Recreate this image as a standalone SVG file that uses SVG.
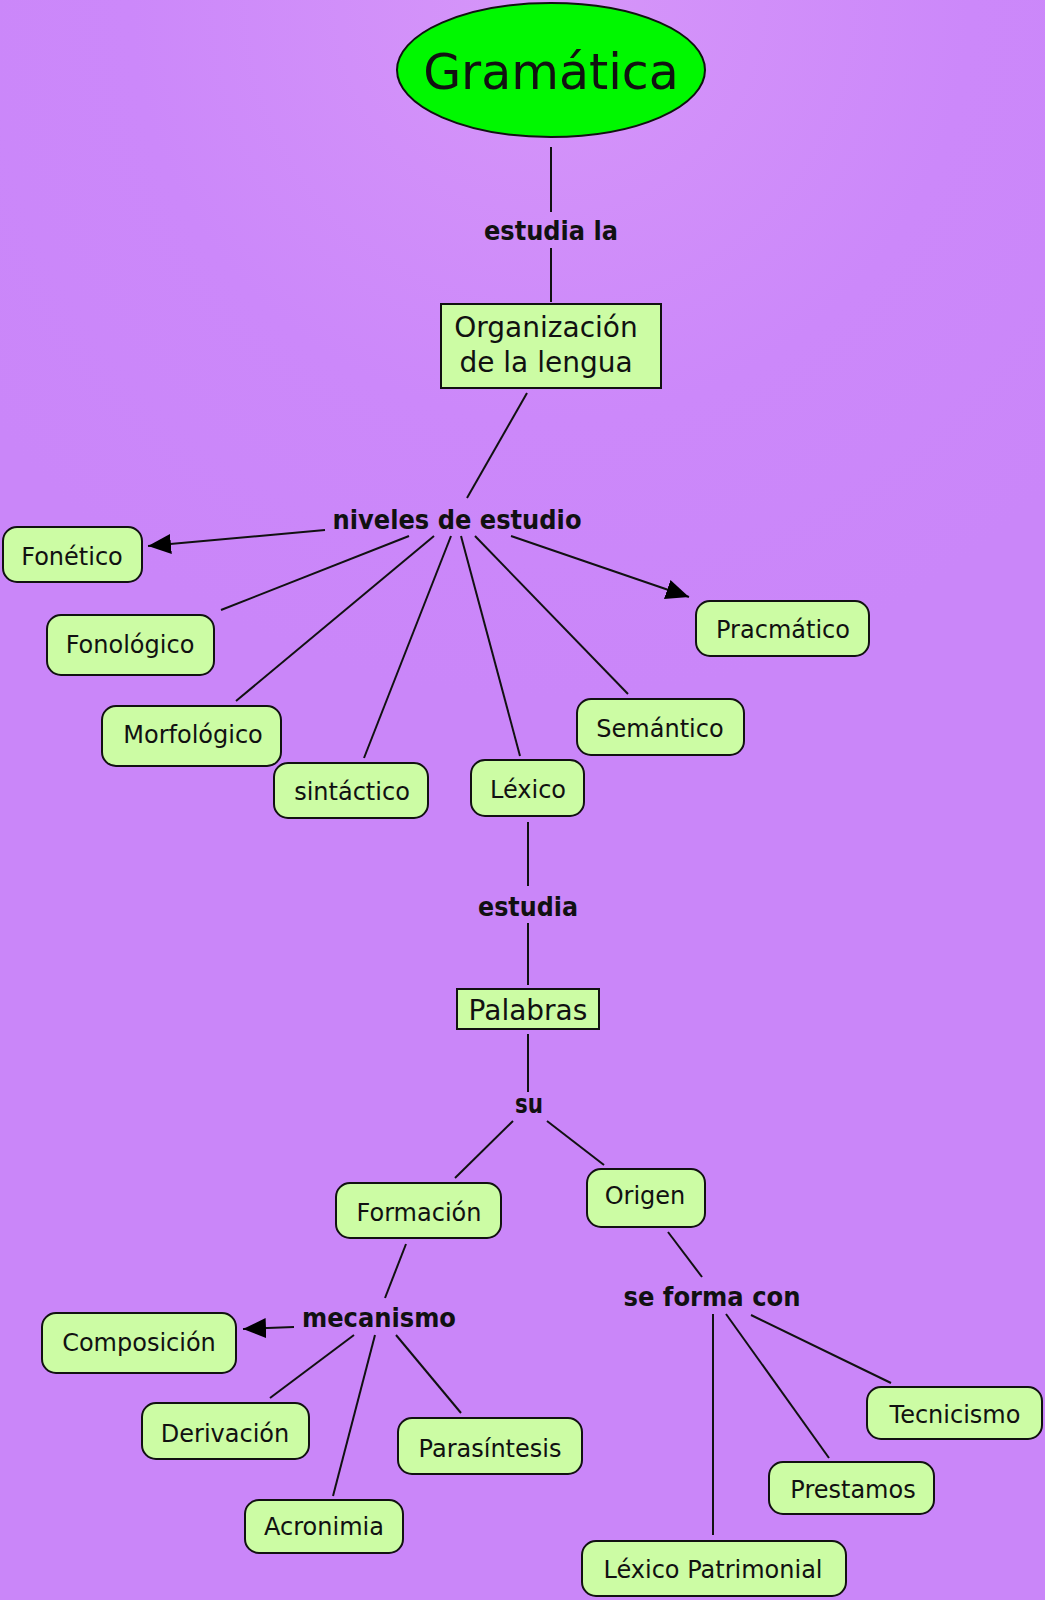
<svg xmlns="http://www.w3.org/2000/svg" width="1045" height="1600" viewBox="0 0 1045 1600">
<defs>
<radialGradient id="bg" cx="550" cy="0" r="700" gradientUnits="userSpaceOnUse">
<stop offset="0" stop-color="#d696f9"/>
<stop offset="0.6" stop-color="#cc88fa"/>
<stop offset="1" stop-color="#ca86f9"/>
</radialGradient>
<marker id="arr" markerUnits="userSpaceOnUse" markerWidth="24" markerHeight="22" refX="23" refY="10" orient="auto">
<path d="M0,0 L23,10 L0,20 Z" fill="#000"/>
</marker>
<style>
.n rect{fill:#ccfca4;stroke:#111;stroke-width:2}
.t{font-family:"DejaVu Sans","Liberation Sans",sans-serif;font-size:24px;fill:#111;text-anchor:middle}
.l{font-family:"DejaVu Sans","Liberation Sans",sans-serif;font-weight:bold;font-size:26px;fill:#111;text-anchor:middle}
#conn line{stroke:#111;stroke-width:2;fill:none}
</style>
</defs>
<rect width="1045" height="1600" fill="url(#bg)"/>

<g id="conn">
<line x1="551" y1="147" x2="551" y2="212"/>
<line x1="551" y1="248" x2="551" y2="302"/>
<line x1="527" y1="393" x2="467" y2="498"/>
<line x1="325" y1="530" x2="148" y2="546" marker-end="url(#arr)"/>
<line x1="409" y1="536" x2="221" y2="610"/>
<line x1="434" y1="536" x2="236" y2="701"/>
<line x1="451" y1="536" x2="364" y2="758"/>
<line x1="461" y1="536" x2="520" y2="756"/>
<line x1="475" y1="536" x2="628" y2="694"/>
<line x1="511" y1="536" x2="689" y2="597" marker-end="url(#arr)"/>
<line x1="528" y1="822" x2="528" y2="886"/>
<line x1="528" y1="923" x2="528" y2="985"/>
<line x1="528" y1="1034" x2="528" y2="1092"/>
<line x1="513" y1="1121" x2="455" y2="1178"/>
<line x1="547" y1="1121" x2="604" y2="1165"/>
<line x1="406" y1="1244" x2="385" y2="1298"/>
<line x1="294" y1="1327" x2="243" y2="1329" marker-end="url(#arr)"/>
<line x1="354" y1="1335" x2="270" y2="1398"/>
<line x1="375" y1="1335" x2="333" y2="1496"/>
<line x1="396" y1="1335" x2="461" y2="1413"/>
<line x1="668" y1="1232" x2="702" y2="1277"/>
<line x1="713" y1="1314" x2="713" y2="1535"/>
<line x1="726" y1="1314" x2="829" y2="1458"/>
<line x1="751" y1="1315" x2="891" y2="1383"/>
</g>

<g id="labels">
<text class="l" x="551" y="240" textLength="134" lengthAdjust="spacingAndGlyphs">estudia la</text>
<text class="l" x="457" y="529" textLength="249" lengthAdjust="spacingAndGlyphs">niveles de estudio</text>
<text class="l" x="528" y="916" textLength="100" lengthAdjust="spacingAndGlyphs">estudia</text>
<text class="l" x="529" y="1113" textLength="28" lengthAdjust="spacingAndGlyphs">su</text>
<text class="l" x="379" y="1327" textLength="154" lengthAdjust="spacingAndGlyphs">mecanismo</text>
<text class="l" x="712" y="1306" textLength="177" lengthAdjust="spacingAndGlyphs">se forma con</text>
</g>

<g id="gramatica">
<ellipse cx="551" cy="70" rx="154" ry="67" fill="#00f800" stroke="#111" stroke-width="2"/>
<text class="t" x="551" y="89" style="font-size:49px">Gramática</text>
</g>
<g id="organizacion" class="n">
<rect x="441" y="304" width="220" height="84" rx="0"/>
<text class="t" x="546" y="337" style="font-size:28px">Organización</text>
<text class="t" x="546" y="372" style="font-size:28px">de la lengua</text>
</g>
<g id="fonetico" class="n"><rect x="3" y="527" width="139" height="55" rx="14"/><text class="t" x="72" y="565">Fonético</text></g>
<g id="fonologico" class="n"><rect x="47" y="615" width="167" height="60" rx="14"/><text class="t" x="130" y="653">Fonológico</text></g>
<g id="morfologico" class="n"><rect x="102" y="706" width="179" height="60" rx="14"/><text class="t" x="193" y="743">Morfológico</text></g>
<g id="sintactico" class="n"><rect x="274" y="763" width="154" height="55" rx="14"/><text class="t" x="352" y="800">sintáctico</text></g>
<g id="lexico" class="n"><rect x="471" y="760" width="113" height="56" rx="14"/><text class="t" x="528" y="798">Léxico</text></g>
<g id="semantico" class="n"><rect x="577" y="699" width="167" height="56" rx="14"/><text class="t" x="660" y="737">Semántico</text></g>
<g id="pracmatico" class="n"><rect x="696" y="601" width="173" height="55" rx="14"/><text class="t" x="783" y="638">Pracmático</text></g>
<g id="palabras" class="n"><rect x="457" y="989" width="142" height="40" rx="0"/><text class="t" x="528" y="1020" style="font-size:28px">Palabras</text></g>
<g id="formacion" class="n"><rect x="336" y="1183" width="165" height="55" rx="14"/><text class="t" x="419" y="1221">Formación</text></g>
<g id="origen" class="n"><rect x="587" y="1169" width="118" height="58" rx="14"/><text class="t" x="645" y="1204">Origen</text></g>
<g id="composicion" class="n"><rect x="42" y="1313" width="194" height="60" rx="14"/><text class="t" x="139" y="1351">Composición</text></g>
<g id="derivacion" class="n"><rect x="142" y="1403" width="167" height="56" rx="14"/><text class="t" x="225" y="1442">Derivación</text></g>
<g id="acronimia" class="n"><rect x="245" y="1500" width="158" height="53" rx="14"/><text class="t" x="324" y="1535">Acronimia</text></g>
<g id="parasintesis" class="n"><rect x="398" y="1418" width="184" height="56" rx="14"/><text class="t" x="490" y="1457">Parasíntesis</text></g>
<g id="tecnicismo" class="n"><rect x="867" y="1387" width="175" height="52" rx="14"/><text class="t" x="955" y="1423">Tecnicismo</text></g>
<g id="prestamos" class="n"><rect x="769" y="1462" width="165" height="52" rx="14"/><text class="t" x="853" y="1498">Prestamos</text></g>
<g id="lexico-patrimonial" class="n"><rect x="582" y="1541" width="264" height="55" rx="14"/><text class="t" x="713" y="1578">Léxico Patrimonial</text></g>
</svg>
